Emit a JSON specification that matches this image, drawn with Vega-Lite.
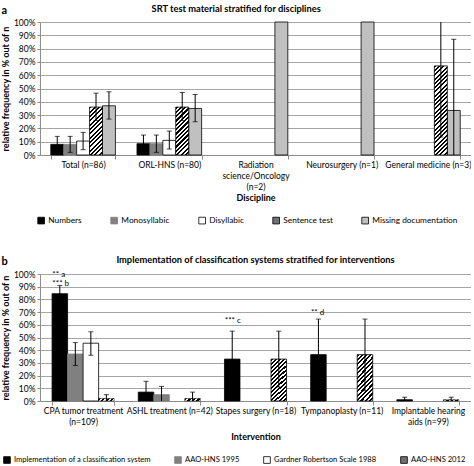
{
  "$schema": "https://vega.github.io/schema/vega-lite/v6.json",
  "padding": {"left": 1, "top": 4, "right": 0, "bottom": 0},
  "datasets": {
    "srt": [
      {"discipline": "Total (n=86)", "material": "Numbers", "value": 8, "lower": 2, "upper": 14},
      {"discipline": "Total (n=86)", "material": "Monosyllabic", "value": 8, "lower": 2, "upper": 14},
      {"discipline": "Total (n=86)", "material": "Disyllabic", "value": 10.5, "lower": 4, "upper": 17},
      {"discipline": "Total (n=86)", "material": "Sentence test", "value": 36, "lower": 26, "upper": 46.5},
      {"discipline": "Total (n=86)", "material": "Missing documentation", "value": 37, "lower": 27, "upper": 47.5},
      {"discipline": "ORL-HNS (n=80)", "material": "Numbers", "value": 8.5, "lower": 2, "upper": 15},
      {"discipline": "ORL-HNS (n=80)", "material": "Monosyllabic", "value": 8.5, "lower": 2, "upper": 15},
      {"discipline": "ORL-HNS (n=80)", "material": "Disyllabic", "value": 11, "lower": 4.5, "upper": 18},
      {"discipline": "ORL-HNS (n=80)", "material": "Sentence test", "value": 36, "lower": 26, "upper": 47},
      {"discipline": "ORL-HNS (n=80)", "material": "Missing documentation", "value": 35, "lower": 25, "upper": 45.5},
      {"discipline": "Radiation science/Oncology (n=2)", "material": "Missing documentation", "value": 100, "lower": null, "upper": null},
      {"discipline": "Neurosurgery (n=1)", "material": "Missing documentation", "value": 100, "lower": null, "upper": null},
      {"discipline": "General medicine (n=3)", "material": "Sentence test", "value": 67, "lower": 13.5, "upper": 120},
      {"discipline": "General medicine (n=3)", "material": "Missing documentation", "value": 33.5, "lower": -20, "upper": 87}
    ],
    "cls": [
      {"intervention": "CPA tumor treatment (n=109)", "system": "Implementation of a classification system", "value": 84.5, "lower": 77, "upper": 91},
      {"intervention": "CPA tumor treatment (n=109)", "system": "AAO-HNS 1995", "value": 37, "lower": 28, "upper": 46},
      {"intervention": "CPA tumor treatment (n=109)", "system": "Gardner Robertson Scale 1988", "value": 45.5, "lower": 36, "upper": 54.5},
      {"intervention": "CPA tumor treatment (n=109)", "system": "AAO-HNS 2012", "value": 2, "lower": -1, "upper": 5},
      {"intervention": "ASHL treatment (n=42)", "system": "Implementation of a classification system", "value": 7, "lower": -1, "upper": 15.5},
      {"intervention": "ASHL treatment (n=42)", "system": "AAO-HNS 1995", "value": 5, "lower": -1.5, "upper": 11.5},
      {"intervention": "ASHL treatment (n=42)", "system": "AAO-HNS 2012", "value": 2, "lower": -3, "upper": 7},
      {"intervention": "Stapes surgery (n=18)", "system": "Implementation of a classification system", "value": 33, "lower": 11, "upper": 55},
      {"intervention": "Stapes surgery (n=18)", "system": "AAO-HNS 2012", "value": 33, "lower": 11, "upper": 55},
      {"intervention": "Tympanoplasty (n=11)", "system": "Implementation of a classification system", "value": 36.5, "lower": 8, "upper": 64.5},
      {"intervention": "Tympanoplasty (n=11)", "system": "AAO-HNS 2012", "value": 36.5, "lower": 8, "upper": 64.5},
      {"intervention": "Implantable hearing aids (n=99)", "system": "Implementation of a classification system", "value": 1, "lower": -1, "upper": 3},
      {"intervention": "Implantable hearing aids (n=99)", "system": "AAO-HNS 2012", "value": 1, "lower": -1, "upper": 3}
    ],
    "notes": [
      {"intervention": "CPA tumor treatment (n=109)", "system": "Implementation of a classification system", "label": "** a", "pos": 99},
      {"intervention": "CPA tumor treatment (n=109)", "system": "Implementation of a classification system", "label": "*** b", "pos": 92},
      {"intervention": "Stapes surgery (n=18)", "system": "Implementation of a classification system", "label": "*** c", "pos": 63},
      {"intervention": "Tympanoplasty (n=11)", "system": "Implementation of a classification system", "label": "** d", "pos": 69}
    ]
  },
  "spacing": 29,
  "vconcat": [
    {
      "title": {"text": "a", "anchor": "start", "fontSize": 11, "offset": -11},
      "resolve": {"legend": {"fill": "independent", "stroke": "independent"}},
      "vconcat": [
        {
          "width": 431,
          "height": 133,
          "title": {"text": "SRT test material stratified for disciplines", "anchor": "middle", "frame": "bounds", "offset": 4},
          "data": {"name": "srt"},
          "encoding": {
            "x": {
              "field": "discipline",
              "type": "nominal",
              "sort": ["Total (n=86)", "ORL-HNS (n=80)", "Radiation science/Oncology (n=2)", "Neurosurgery (n=1)", "General medicine (n=3)"],
              "scale": {"paddingInner": 0.25, "paddingOuter": 0.125},
              "axis": {
                "title": "Discipline",
                "labelAngle": 0,
                "ticks": true,
                "tickBand": "extent",
                "tickSize": 4,
                "labelPadding": 1,
                "labelLineHeight": 11,
                "labelOverlap": false,
                "titlePadding": 3,
                "labelExpr": "datum.value == 'Radiation science/Oncology (n=2)' ? ['Radiation', 'science/Oncology', '(n=2)'] : datum.value"
              }
            },
            "xOffset": {
              "field": "material",
              "type": "nominal",
              "scale": {"domain": ["Numbers", "Monosyllabic", "Disyllabic", "Sentence test", "Missing documentation"]}
            }
          },
          "layer": [
            {
              "transform": [{"filter": "datum.material != 'Sentence test'"}],
              "mark": {"type": "bar", "strokeWidth": 0.8},
              "encoding": {
                "y": {
                  "field": "value",
                  "type": "quantitative",
                  "title": "relative frequency in % out of n",
                  "scale": {"domain": [0, 100], "nice": false},
                  "axis": {"values": [0, 10, 20, 30, 40, 50, 60, 70, 80, 90, 100], "labelExpr": "datum.value + '%'", "labelOverlap": false, "tickSize": 3, "labelPadding": 2, "titlePadding": 3}
                },
                "fill": {
                  "field": "material",
                  "type": "nominal",
                  "scale": {"domain": ["Numbers", "Monosyllabic", "Disyllabic", "Sentence test", "Missing documentation"], "range": ["#000000", "#808080", "#ffffff", "#707070", "#c0c0c0"]},
                  "legend": {"title": null, "orient": "none", "direction": "horizontal", "legendX": -3, "legendY": 194, "columnPadding": 27, "labelOffset": 3, "labelLimit": 300}
                },
                "stroke": {
                  "field": "material",
                  "type": "nominal",
                  "scale": {"domain": ["Numbers", "Monosyllabic", "Disyllabic", "Sentence test", "Missing documentation"], "range": ["#000000", "#808080", "#000000", "#000000", "#000000"]}
                }
              }
            },
            {
              "transform": [{"filter": "datum.material == 'Sentence test' && datum.value < 50"}],
              "mark": {
                "type": "bar", "stroke": "#000000", "strokeWidth": 0.8,
                "fill": {"gradient": "linear", "x1": 0, "y1": 0, "x2": 0.3196, "y2": 1.1838, "stops": [
                  {"offset":0,"color":"#000"},{"offset":0.0357,"color":"#000"},{"offset":0.0357,"color":"#fff"},{"offset":0.0714,"color":"#fff"},
                  {"offset":0.0714,"color":"#000"},{"offset":0.1071,"color":"#000"},{"offset":0.1071,"color":"#fff"},{"offset":0.1429,"color":"#fff"},
                  {"offset":0.1429,"color":"#000"},{"offset":0.1786,"color":"#000"},{"offset":0.1786,"color":"#fff"},{"offset":0.2143,"color":"#fff"},
                  {"offset":0.2143,"color":"#000"},{"offset":0.25,"color":"#000"},{"offset":0.25,"color":"#fff"},{"offset":0.2857,"color":"#fff"},
                  {"offset":0.2857,"color":"#000"},{"offset":0.3214,"color":"#000"},{"offset":0.3214,"color":"#fff"},{"offset":0.3571,"color":"#fff"},
                  {"offset":0.3571,"color":"#000"},{"offset":0.3929,"color":"#000"},{"offset":0.3929,"color":"#fff"},{"offset":0.4286,"color":"#fff"},
                  {"offset":0.4286,"color":"#000"},{"offset":0.4643,"color":"#000"},{"offset":0.4643,"color":"#fff"},{"offset":0.5,"color":"#fff"},
                  {"offset":0.5,"color":"#000"},{"offset":0.5357,"color":"#000"},{"offset":0.5357,"color":"#fff"},{"offset":0.5714,"color":"#fff"},
                  {"offset":0.5714,"color":"#000"},{"offset":0.6071,"color":"#000"},{"offset":0.6071,"color":"#fff"},{"offset":0.6429,"color":"#fff"},
                  {"offset":0.6429,"color":"#000"},{"offset":0.6786,"color":"#000"},{"offset":0.6786,"color":"#fff"},{"offset":0.7143,"color":"#fff"},
                  {"offset":0.7143,"color":"#000"},{"offset":0.75,"color":"#000"},{"offset":0.75,"color":"#fff"},{"offset":0.7857,"color":"#fff"},
                  {"offset":0.7857,"color":"#000"},{"offset":0.8214,"color":"#000"},{"offset":0.8214,"color":"#fff"},{"offset":0.8571,"color":"#fff"},
                  {"offset":0.8571,"color":"#000"},{"offset":0.8929,"color":"#000"},{"offset":0.8929,"color":"#fff"},{"offset":0.9286,"color":"#fff"},
                  {"offset":0.9286,"color":"#000"},{"offset":0.9643,"color":"#000"},{"offset":0.9643,"color":"#fff"},{"offset":1,"color":"#fff"}
                ]}
              },
              "encoding": {
                "y": {
                  "field": "value", "type": "quantitative", "title": "relative frequency in % out of n",
                  "axis": {"values": [0, 10, 20, 30, 40, 50, 60, 70, 80, 90, 100], "labelExpr": "datum.value + '%'", "labelOverlap": false, "tickSize": 3, "labelPadding": 2, "titlePadding": 3}
                }
              }
            },
            {
              "transform": [{"filter": "datum.material == 'Sentence test' && datum.value >= 50"}],
              "mark": {
                "type": "bar", "stroke": "#000000", "strokeWidth": 0.8,
                "fill": {"gradient": "linear", "x1": 0, "y1": 0, "x2": 0.1628, "y2": 1.1215, "stops": [
                  {"offset":0,"color":"#000"},{"offset":0.0208,"color":"#000"},{"offset":0.0208,"color":"#fff"},{"offset":0.0417,"color":"#fff"},
                  {"offset":0.0417,"color":"#000"},{"offset":0.0625,"color":"#000"},{"offset":0.0625,"color":"#fff"},{"offset":0.0833,"color":"#fff"},
                  {"offset":0.0833,"color":"#000"},{"offset":0.1042,"color":"#000"},{"offset":0.1042,"color":"#fff"},{"offset":0.125,"color":"#fff"},
                  {"offset":0.125,"color":"#000"},{"offset":0.1458,"color":"#000"},{"offset":0.1458,"color":"#fff"},{"offset":0.1667,"color":"#fff"},
                  {"offset":0.1667,"color":"#000"},{"offset":0.1875,"color":"#000"},{"offset":0.1875,"color":"#fff"},{"offset":0.2083,"color":"#fff"},
                  {"offset":0.2083,"color":"#000"},{"offset":0.2292,"color":"#000"},{"offset":0.2292,"color":"#fff"},{"offset":0.25,"color":"#fff"},
                  {"offset":0.25,"color":"#000"},{"offset":0.2708,"color":"#000"},{"offset":0.2708,"color":"#fff"},{"offset":0.2917,"color":"#fff"},
                  {"offset":0.2917,"color":"#000"},{"offset":0.3125,"color":"#000"},{"offset":0.3125,"color":"#fff"},{"offset":0.3333,"color":"#fff"},
                  {"offset":0.3333,"color":"#000"},{"offset":0.3542,"color":"#000"},{"offset":0.3542,"color":"#fff"},{"offset":0.375,"color":"#fff"},
                  {"offset":0.375,"color":"#000"},{"offset":0.3958,"color":"#000"},{"offset":0.3958,"color":"#fff"},{"offset":0.4167,"color":"#fff"},
                  {"offset":0.4167,"color":"#000"},{"offset":0.4375,"color":"#000"},{"offset":0.4375,"color":"#fff"},{"offset":0.4583,"color":"#fff"},
                  {"offset":0.4583,"color":"#000"},{"offset":0.4792,"color":"#000"},{"offset":0.4792,"color":"#fff"},{"offset":0.5,"color":"#fff"},
                  {"offset":0.5,"color":"#000"},{"offset":0.5208,"color":"#000"},{"offset":0.5208,"color":"#fff"},{"offset":0.5417,"color":"#fff"},
                  {"offset":0.5417,"color":"#000"},{"offset":0.5625,"color":"#000"},{"offset":0.5625,"color":"#fff"},{"offset":0.5833,"color":"#fff"},
                  {"offset":0.5833,"color":"#000"},{"offset":0.6042,"color":"#000"},{"offset":0.6042,"color":"#fff"},{"offset":0.625,"color":"#fff"},
                  {"offset":0.625,"color":"#000"},{"offset":0.6458,"color":"#000"},{"offset":0.6458,"color":"#fff"},{"offset":0.6667,"color":"#fff"},
                  {"offset":0.6667,"color":"#000"},{"offset":0.6875,"color":"#000"},{"offset":0.6875,"color":"#fff"},{"offset":0.7083,"color":"#fff"},
                  {"offset":0.7083,"color":"#000"},{"offset":0.7292,"color":"#000"},{"offset":0.7292,"color":"#fff"},{"offset":0.75,"color":"#fff"},
                  {"offset":0.75,"color":"#000"},{"offset":0.7708,"color":"#000"},{"offset":0.7708,"color":"#fff"},{"offset":0.7917,"color":"#fff"},
                  {"offset":0.7917,"color":"#000"},{"offset":0.8125,"color":"#000"},{"offset":0.8125,"color":"#fff"},{"offset":0.8333,"color":"#fff"},
                  {"offset":0.8333,"color":"#000"},{"offset":0.8542,"color":"#000"},{"offset":0.8542,"color":"#fff"},{"offset":0.875,"color":"#fff"},
                  {"offset":0.875,"color":"#000"},{"offset":0.8958,"color":"#000"},{"offset":0.8958,"color":"#fff"},{"offset":0.9167,"color":"#fff"},
                  {"offset":0.9167,"color":"#000"},{"offset":0.9375,"color":"#000"},{"offset":0.9375,"color":"#fff"},{"offset":0.9583,"color":"#fff"},
                  {"offset":0.9583,"color":"#000"},{"offset":0.9792,"color":"#000"},{"offset":0.9792,"color":"#fff"},{"offset":1,"color":"#fff"}
                ]}
              },
              "encoding": {
                "y": {
                  "field": "value", "type": "quantitative", "title": "relative frequency in % out of n",
                  "axis": {"values": [0, 10, 20, 30, 40, 50, 60, 70, 80, 90, 100], "labelExpr": "datum.value + '%'", "labelOverlap": false, "tickSize": 3, "labelPadding": 2, "titlePadding": 3}
                }
              }
            },
            {
              "transform": [{"filter": "isValid(datum.upper)"}],
              "mark": {"type": "rule", "color": "#000000", "strokeWidth": 1, "clip": true},
              "encoding": {
                "y": {
                  "field": "lower", "type": "quantitative", "title": "relative frequency in % out of n",
                  "axis": {"values": [0, 10, 20, 30, 40, 50, 60, 70, 80, 90, 100], "labelExpr": "datum.value + '%'", "labelOverlap": false, "tickSize": 3, "labelPadding": 2, "titlePadding": 3}
                },
                "y2": {"field": "upper"}
              }
            },
            {
              "transform": [{"filter": "isValid(datum.upper)"}],
              "mark": {"type": "tick", "color": "#000000", "size": 5, "thickness": 1, "clip": true},
              "encoding": {
                "y": {
                  "field": "upper", "type": "quantitative", "title": "relative frequency in % out of n",
                  "axis": {"values": [0, 10, 20, 30, 40, 50, 60, 70, 80, 90, 100], "labelExpr": "datum.value + '%'", "labelOverlap": false, "tickSize": 3, "labelPadding": 2, "titlePadding": 3}
                }
              }
            },
            {
              "transform": [{"filter": "isValid(datum.lower)"}],
              "mark": {"type": "tick", "color": "#000000", "size": 5, "thickness": 1, "clip": true},
              "encoding": {
                "y": {
                  "field": "lower", "type": "quantitative", "title": "relative frequency in % out of n",
                  "axis": {"values": [0, 10, 20, 30, 40, 50, 60, 70, 80, 90, 100], "labelExpr": "datum.value + '%'", "labelOverlap": false, "tickSize": 3, "labelPadding": 2, "titlePadding": 3}
                }
              }
            }
          ]
        }
      ]
    },
    {
      "title": {"text": "b", "anchor": "start", "fontSize": 11, "offset": -11},
      "resolve": {"legend": {"fill": "independent", "stroke": "independent"}},
      "vconcat": [
        {
          "width": 431,
          "height": 127,
          "title": {"text": "Implementation of classification systems stratified for interventions", "anchor": "middle", "frame": "group", "offset": 5},
          "data": {"name": "cls"},
          "encoding": {
            "x": {
              "field": "intervention",
              "type": "nominal",
              "sort": ["CPA tumor treatment (n=109)", "ASHL treatment (n=42)", "Stapes surgery (n=18)", "Tympanoplasty (n=11)", "Implantable hearing aids (n=99)"],
              "scale": {"paddingInner": 0.28, "paddingOuter": 0.14},
              "axis": {
                "title": "Intervention",
                "labelAngle": 0,
                "ticks": true,
                "tickBand": "extent",
                "tickSize": 4,
                "labelPadding": 1,
                "labelLineHeight": 11,
                "labelOverlap": false,
                "titlePadding": 7,
                "labelExpr": "datum.value == 'CPA tumor treatment (n=109)' ? ['CPA tumor treatment', '(n=109)'] : datum.value == 'Implantable hearing aids (n=99)' ? ['Implantable hearing', 'aids (n=99)'] : datum.value"
              }
            },
            "xOffset": {
              "field": "system",
              "type": "nominal",
              "scale": {"domain": ["Implementation of a classification system", "AAO-HNS 1995", "Gardner Robertson Scale 1988", "AAO-HNS 2012"]}
            }
          },
          "layer": [
            {
              "transform": [{"filter": "datum.system != 'AAO-HNS 2012'"}],
              "mark": {"type": "bar", "strokeWidth": 0.8},
              "encoding": {
                "y": {
                  "field": "value",
                  "type": "quantitative",
                  "title": "relative frequency in % out of n",
                  "scale": {"domain": [0, 100], "nice": false},
                  "axis": {"values": [0, 10, 20, 30, 40, 50, 60, 70, 80, 90, 100], "labelExpr": "datum.value + '%'", "labelOverlap": false, "tickSize": 3, "labelPadding": 2, "titlePadding": 3}
                },
                "fill": {
                  "field": "system",
                  "type": "nominal",
                  "scale": {"domain": ["Implementation of a classification system", "AAO-HNS 1995", "Gardner Robertson Scale 1988", "AAO-HNS 2012"], "range": ["#000000", "#808080", "#ffffff", "#707070"]},
                  "legend": {"title": null, "orient": "none", "direction": "horizontal", "legendX": -37, "legendY": 182, "columnPadding": 22, "labelOffset": 3, "labelLimit": 300, "labelFontSize": 7.6}
                },
                "stroke": {
                  "field": "system",
                  "type": "nominal",
                  "scale": {"domain": ["Implementation of a classification system", "AAO-HNS 1995", "Gardner Robertson Scale 1988", "AAO-HNS 2012"], "range": ["#000000", "#808080", "#000000", "#000000"]}
                }
              }
            },
            {
              "transform": [{"filter": "datum.system == 'AAO-HNS 2012' && datum.value >= 10"}],
              "mark": {
                "type": "bar", "stroke": "#000000", "strokeWidth": 0.8,
                "fill": {"gradient": "linear", "x1": 0, "y1": 0, "x2": 0.4252, "y2": 1.2032, "stops": [
                  {"offset":0,"color":"#000"},{"offset":0.0357,"color":"#000"},{"offset":0.0357,"color":"#fff"},{"offset":0.0714,"color":"#fff"},
                  {"offset":0.0714,"color":"#000"},{"offset":0.1071,"color":"#000"},{"offset":0.1071,"color":"#fff"},{"offset":0.1429,"color":"#fff"},
                  {"offset":0.1429,"color":"#000"},{"offset":0.1786,"color":"#000"},{"offset":0.1786,"color":"#fff"},{"offset":0.2143,"color":"#fff"},
                  {"offset":0.2143,"color":"#000"},{"offset":0.25,"color":"#000"},{"offset":0.25,"color":"#fff"},{"offset":0.2857,"color":"#fff"},
                  {"offset":0.2857,"color":"#000"},{"offset":0.3214,"color":"#000"},{"offset":0.3214,"color":"#fff"},{"offset":0.3571,"color":"#fff"},
                  {"offset":0.3571,"color":"#000"},{"offset":0.3929,"color":"#000"},{"offset":0.3929,"color":"#fff"},{"offset":0.4286,"color":"#fff"},
                  {"offset":0.4286,"color":"#000"},{"offset":0.4643,"color":"#000"},{"offset":0.4643,"color":"#fff"},{"offset":0.5,"color":"#fff"},
                  {"offset":0.5,"color":"#000"},{"offset":0.5357,"color":"#000"},{"offset":0.5357,"color":"#fff"},{"offset":0.5714,"color":"#fff"},
                  {"offset":0.5714,"color":"#000"},{"offset":0.6071,"color":"#000"},{"offset":0.6071,"color":"#fff"},{"offset":0.6429,"color":"#fff"},
                  {"offset":0.6429,"color":"#000"},{"offset":0.6786,"color":"#000"},{"offset":0.6786,"color":"#fff"},{"offset":0.7143,"color":"#fff"},
                  {"offset":0.7143,"color":"#000"},{"offset":0.75,"color":"#000"},{"offset":0.75,"color":"#fff"},{"offset":0.7857,"color":"#fff"},
                  {"offset":0.7857,"color":"#000"},{"offset":0.8214,"color":"#000"},{"offset":0.8214,"color":"#fff"},{"offset":0.8571,"color":"#fff"},
                  {"offset":0.8571,"color":"#000"},{"offset":0.8929,"color":"#000"},{"offset":0.8929,"color":"#fff"},{"offset":0.9286,"color":"#fff"},
                  {"offset":0.9286,"color":"#000"},{"offset":0.9643,"color":"#000"},{"offset":0.9643,"color":"#fff"},{"offset":1,"color":"#fff"}
                ]}
              },
              "encoding": {
                "y": {
                  "field": "value", "type": "quantitative", "title": "relative frequency in % out of n",
                  "axis": {"values": [0, 10, 20, 30, 40, 50, 60, 70, 80, 90, 100], "labelExpr": "datum.value + '%'", "labelOverlap": false, "tickSize": 3, "labelPadding": 2, "titlePadding": 3}
                }
              }
            },
            {
              "transform": [{"filter": "datum.system == 'AAO-HNS 2012' && datum.value < 10"}],
              "mark": {
                "type": "bar", "stroke": "#000000", "strokeWidth": 0.5,
                "fill": {"gradient": "linear", "x1": 0, "y1": 0, "x2": 1.132, "y2": 0.1828, "stops": [
                  {"offset":0,"color":"#000"},{"offset":0.125,"color":"#000"},{"offset":0.125,"color":"#fff"},{"offset":0.25,"color":"#fff"},
                  {"offset":0.25,"color":"#000"},{"offset":0.375,"color":"#000"},{"offset":0.375,"color":"#fff"},{"offset":0.5,"color":"#fff"},
                  {"offset":0.5,"color":"#000"},{"offset":0.625,"color":"#000"},{"offset":0.625,"color":"#fff"},{"offset":0.75,"color":"#fff"},
                  {"offset":0.75,"color":"#000"},{"offset":0.875,"color":"#000"},{"offset":0.875,"color":"#fff"},{"offset":1,"color":"#fff"}
                ]}
              },
              "encoding": {
                "y": {
                  "field": "value", "type": "quantitative", "title": "relative frequency in % out of n",
                  "axis": {"values": [0, 10, 20, 30, 40, 50, 60, 70, 80, 90, 100], "labelExpr": "datum.value + '%'", "labelOverlap": false, "tickSize": 3, "labelPadding": 2, "titlePadding": 3}
                }
              }
            },
            {
              "mark": {"type": "rule", "color": "#000000", "strokeWidth": 1, "clip": true},
              "encoding": {
                "y": {
                  "field": "lower", "type": "quantitative", "title": "relative frequency in % out of n",
                  "axis": {"values": [0, 10, 20, 30, 40, 50, 60, 70, 80, 90, 100], "labelExpr": "datum.value + '%'", "labelOverlap": false, "tickSize": 3, "labelPadding": 2, "titlePadding": 3}
                },
                "y2": {"field": "upper"}
              }
            },
            {
              "mark": {"type": "tick", "color": "#000000", "size": 5, "thickness": 1, "clip": true},
              "encoding": {
                "y": {
                  "field": "upper", "type": "quantitative", "title": "relative frequency in % out of n",
                  "axis": {"values": [0, 10, 20, 30, 40, 50, 60, 70, 80, 90, 100], "labelExpr": "datum.value + '%'", "labelOverlap": false, "tickSize": 3, "labelPadding": 2, "titlePadding": 3}
                }
              }
            },
            {
              "mark": {"type": "tick", "color": "#000000", "size": 5, "thickness": 1, "clip": true},
              "encoding": {
                "y": {
                  "field": "lower", "type": "quantitative", "title": "relative frequency in % out of n",
                  "axis": {"values": [0, 10, 20, 30, 40, 50, 60, 70, 80, 90, 100], "labelExpr": "datum.value + '%'", "labelOverlap": false, "tickSize": 3, "labelPadding": 2, "titlePadding": 3}
                }
              }
            },
            {
              "data": {"name": "notes"},
              "mark": {"type": "text", "align": "left", "baseline": "middle", "dx": -7.5, "fontSize": 8, "color": "#000000"},
              "encoding": {
                "y": {
                  "field": "pos", "type": "quantitative", "title": "relative frequency in % out of n",
                  "axis": {"values": [0, 10, 20, 30, 40, 50, 60, 70, 80, 90, 100], "labelExpr": "datum.value + '%'", "labelOverlap": false, "tickSize": 3, "labelPadding": 2, "titlePadding": 3}
                },
                "text": {"field": "label"}
              }
            }
          ]
        }
      ]
    }
  ],
  "resolve": {
    "scale": {"x": "independent", "y": "independent", "xOffset": "independent", "fill": "independent", "stroke": "independent"},
    "axis": {"x": "independent", "y": "independent"},
    "legend": {"fill": "independent", "stroke": "independent"}
  },
  "config": {
    "font": "Lato",
    "view": {"stroke": null},
    "title": {"fontSize": 9.3, "fontWeight": "bold", "color": "#000000"},
    "axis": {
      "labelFontSize": 8.5,
      "labelColor": "#000000",
      "titleFontSize": 9,
      "titleFontWeight": "bold",
      "titleColor": "#000000",
      "domainColor": "#8c8c8c",
      "tickColor": "#8c8c8c",
      "gridColor": "#a6a6a6"
    },
    "legend": {"labelFontSize": 8.3, "labelColor": "#000000", "symbolType": "square", "symbolSize": 45, "symbolStrokeWidth": 0.8}
  }
}
